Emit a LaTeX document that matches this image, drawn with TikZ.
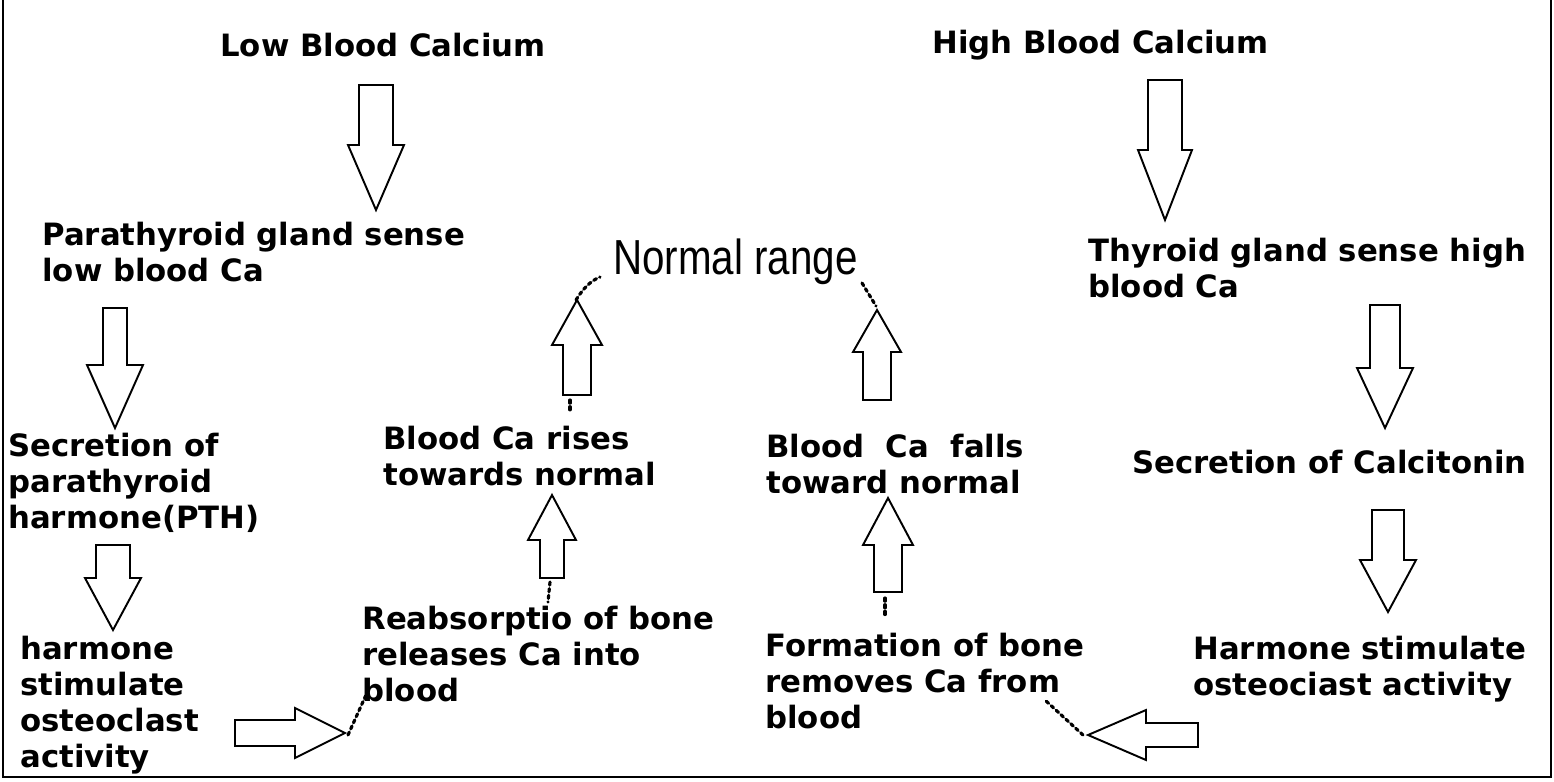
\documentclass[tikz,border=0pt]{standalone}
\usepackage{fontspec}
\setmainfont{DejaVu Sans}
\newfontfamily\nrfont{Liberation Sans}
\newcommand\blockarr[7]{% x y angle length headlen sw hw
  \begin{scope}[shift={(#1,#2)},rotate=#3]
    \draw[arr] (0,-#6)--(#4-#5,-#6)--(#4-#5,-#7)--(#4,0)--(#4-#5,#7)--(#4-#5,#6)--(0,#6)--cycle;
  \end{scope}}
\begin{document}
\begin{tikzpicture}[x=0.02cm,y=-0.02cm,
  arr/.style={draw=black,line width=1.1pt,fill=white,line join=miter},
  txt/.style={font=\bfseries\fontsize{17.5}{20.4}\selectfont,align=left,anchor=north west,inner sep=0pt},
  dots/.style={line width=1.8pt,dotted,line cap=round}]
\useasboundingbox (0,0) rectangle (1554,781);
\draw[line width=0.8pt] (3,0) -- (3,777) -- (1551,777) -- (1551,0);
\node[txt] (low) at (220,33) {Low Blood Calcium};
\node[txt] (high) at (932,30) {High Blood Calcium};
\node[txt] (para) at (42,222) {Parathyroid gland sense\\low blood Ca};
\node[txt] (thy) at (1088,238) {Thyroid gland sense high\\blood Ca};
\node[txt] (secp) at (8,433) {Secretion of\\parathyroid\\harmone(PTH)};
\node[txt] (secc) at (1132,450) {Secretion of Calcitonin};
\node[txt] (rise) at (383,426) {Blood Ca rises\\towards normal};
\node[txt] (fall) at (766,434) {Blood\ \ Ca\ \ falls\\toward normal};
\node[txt] (hl) at (20,636) {harmone\\stimulate\\osteoclast\\activity};
\node[txt] (reab) at (362,606) {Reabsorptio of bone\\releases Ca into\\blood};
\node[txt] (form) at (765,633) {Formation of bone\\removes Ca from\\blood};
\node[txt] (hr) at (1193,636) {Harmone stimulate\\osteociast activity};
\node[anchor=west,inner sep=0pt,font=\nrfont\fontsize{28}{30}\selectfont,xscale=0.82] (norm) at (613,262) {Normal range};
% arrows
\blockarr{376}{85}{-90}{125}{65}{17}{28}
\blockarr{1165}{80}{-90}{140}{70}{17}{27}
\blockarr{115}{308}{-90}{120}{63}{12}{28}
\blockarr{1385}{305}{-90}{123}{60}{15}{28}
\blockarr{113}{545}{-90}{85}{52}{17}{28}
\blockarr{1388}{510}{-90}{102}{52}{16}{28}
\blockarr{577}{395}{90}{95}{45}{14}{25}
\blockarr{877}{400}{90}{90}{42}{14}{24}
\blockarr{552}{578}{90}{83}{45}{12}{24}
\blockarr{888}{592}{90}{94}{47}{14}{25}
\blockarr{235}{733}{0}{110}{50}{13}{25}
\blockarr{1198}{735}{180}{110}{58}{12}{25}
% dots
\draw[dots] (576,300) .. controls (582,290) and (590,281) .. (600,277);
\draw[dots] (862,283) -- (876,306);
\draw[dots] (570,400) -- (570,410);
\draw[dots] (550,582) -- (548,602);
\draw[dots] (885,598) -- (885,616);
\draw[dots] (348,735) -- (366,695);
\draw[dots] (1083,735) -- (1045,700);
\end{tikzpicture}
\end{document}
